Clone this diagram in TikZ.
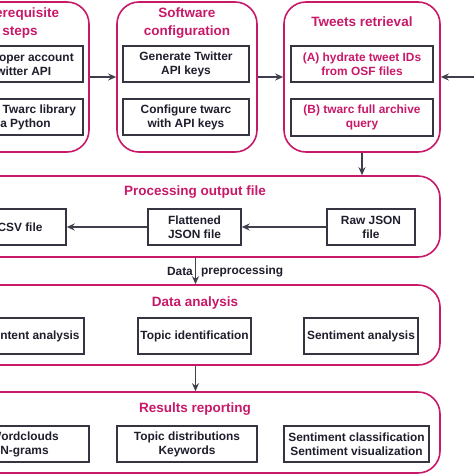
\documentclass[tikz,border=0pt]{standalone}
\usepackage{fontspec}
\setmainfont{Liberation Sans}
\usetikzlibrary{arrows.meta}
\definecolor{frame}{RGB}{200,25,105}
\definecolor{ink}{RGB}{30,30,45}
\begin{document}
\begin{tikzpicture}[x=1pt,y=-1pt,
		outer/.style={draw=frame,line width=1.6pt,rounded corners=22pt},
		inner/.style={draw=ink!90,line width=1.4pt,text=ink,align=center,inner sep=0pt,minimum height=36,font=\fontsize{11.9}{14}\selectfont\bfseries},
		heading/.style={text=frame,align=center,font=\fontsize{13.5}{18}\selectfont\bfseries},
		note/.style={text=ink,font=\fontsize{11.9}{14}\selectfont\bfseries},
		link/.style={draw=ink!85,line width=1.3pt,-{Stealth[length=8pt,width=7pt]}}]
		
		\useasboundingbox (0,0) rectangle (474,474);
		\clip (0,0) rectangle (474,474);
		\fill[white] (0,0) rectangle (474,474);
		
		\node[outer,minimum width=138,minimum height=150] (Prereq) at (20,77) {};
		\node[outer,minimum width=140,minimum height=150] (Software) at (187,77) {};
		\node[outer,minimum width=156,minimum height=150] (Retrieval) at (362,77) {};
		\node[outer,minimum width=489,minimum height=81] (Processing) at (195.5,216.5) {};
		\node[outer,minimum width=489,minimum height=80] (Analysis) at (195.5,325) {};
		\node[outer,minimum width=489,minimum height=81] (Reporting) at (195.5,432.5) {};
		
		\node[heading] (PrereqTitle) at (20,23) {Prerequisite\\steps};
		\node[heading] (SoftwareTitle) at (187,23) {Software\\configuration};
		\node[heading] (RetrievalTitle) at (362,22) {Tweets retrieval};
		\node[heading] (ProcessingTitle) at (195,192) {Processing output file};
		\node[heading] (AnalysisTitle) at (195,303) {Data analysis};
		\node[heading] (ReportingTitle) at (195,409) {Results reporting};
		
		\node[inner,minimum width=125] (Account) at (20.5,64) {Developer account\\Twitter API};
		\node[inner,minimum width=125] (Install) at (20.5,117) {Install Twarc library\\via Python};
		\node[inner,minimum width=126] (Keys) at (186,64) {Generate Twitter\\API keys};
		\node[inner,minimum width=126] (Configure) at (186,117) {Configure twarc\\with API keys};
		\node[inner,minimum width=142,text=frame] (Hydrate) at (362,64) {(A) hydrate tweet IDs\\from OSF files};
		\node[inner,minimum width=142,minimum height=37,text=frame] (Archive) at (362,117.5) {(B) twarc full archive\\query};
		
		\node[inner,minimum width=92] (CSV) at (20,227) {CSV file};
		\node[inner,minimum width=93] (Flattened) at (194.5,227) {Flattened\\JSON file};
		\node[inner,minimum width=88] (RawJSON) at (371,227) {Raw JSON\\file};
		
		\node[inner,minimum width=104] (Content) at (32,336) {Content analysis};
		\node[inner,minimum width=113] (Topic) at (194.5,336) {Topic identification};
		\node[inner,minimum width=114] (Sentiment) at (361,336) {Sentiment analysis};
		
		\node[inner,minimum width=129] (Wordclouds) at (24.5,444) {Wordclouds\\N-grams};
		\node[inner,minimum width=140] (Distributions) at (187,444) {Topic distributions\\Keywords};
		\node[inner,minimum width=145] (Classification) at (356.5,444) {Sentiment classification\\Sentiment visualization};
		
		\coordinate (Feed) at (480,77);
		
		\draw[link] (Prereq) -- (Software);
		\draw[link] (Software) -- (Retrieval);
		\draw[link] (Feed) -- (Retrieval.east);
		\draw[link] (Retrieval.south) -- (Retrieval.south |- Processing.north);
		\draw[link] (RawJSON) -- (Flattened);
		\draw[link] (Flattened) -- (CSV);
		\draw[link] (Processing) -- (Analysis) node[note,midway,left,inner sep=2pt] (DataLabel) {Data} node[note,midway,right,inner sep=5pt] (PrepLabel) {preprocessing};
		\draw[link] (Analysis) -- (Reporting);
		
	\end{tikzpicture}
\end{document}
